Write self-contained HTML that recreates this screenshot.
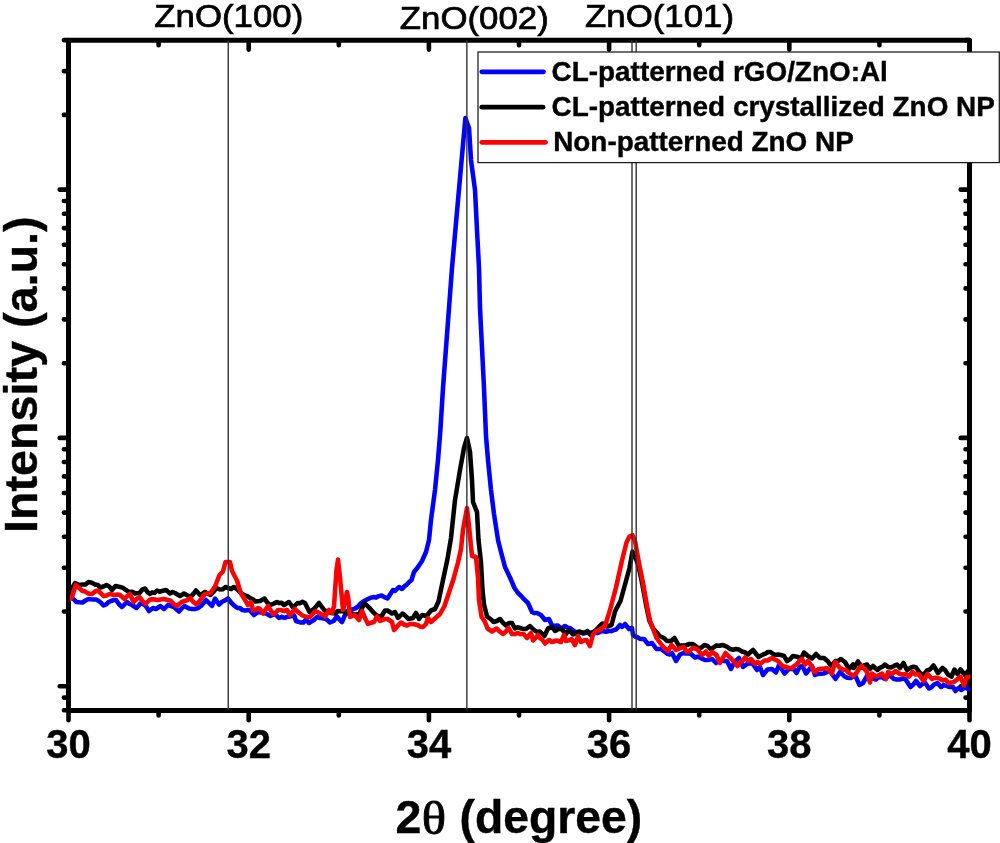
<!DOCTYPE html>
<html><head><meta charset="utf-8"><title>XRD</title>
<style>html,body{margin:0;padding:0;background:#fff}body{width:1000px;height:843px;overflow:hidden}</style></head>
<body>
<svg width="1000" height="843" viewBox="0 0 1000 843" style="display:block">
<rect width="1000" height="843" fill="#fff"/>
<defs><clipPath id="c"><rect x="69.7" y="40.2" width="900.6" height="670.2"/></clipPath></defs>
<path d="M68.5 40.2 v9.4 M68.5 710.4 v9.8 M158.6 40.2 v5.0 M158.6 710.4 v5.0 M248.7 40.2 v9.4 M248.7 710.4 v9.8 M338.8 40.2 v5.0 M338.8 710.4 v5.0 M428.9 40.2 v9.4 M428.9 710.4 v9.8 M519.0 40.2 v5.0 M519.0 710.4 v5.0 M609.1 40.2 v9.4 M609.1 710.4 v9.8 M699.2 40.2 v5.0 M699.2 710.4 v5.0 M789.3 40.2 v9.4 M789.3 710.4 v9.8 M879.4 40.2 v5.0 M879.4 710.4 v5.0 M969.5 40.2 v9.4 M969.5 710.4 v9.8 M68.5 710.3 h-4.6 M969.5 710.3 h-4.0 M68.5 697.6 h-4.6 M969.5 697.6 h-4.0 M68.5 686.2 h-8.8 M969.5 686.2 h-8.8 M68.5 611.5 h-4.6 M969.5 611.5 h-4.0 M68.5 567.7 h-4.6 M969.5 567.7 h-4.0 M68.5 536.7 h-4.6 M969.5 536.7 h-4.0 M68.5 512.6 h-4.6 M969.5 512.6 h-4.0 M68.5 493.0 h-4.6 M969.5 493.0 h-4.0 M68.5 476.4 h-4.6 M969.5 476.4 h-4.0 M68.5 462.0 h-4.6 M969.5 462.0 h-4.0 M68.5 449.3 h-4.6 M969.5 449.3 h-4.0 M68.5 437.9 h-8.8 M969.5 437.9 h-8.8 M68.5 363.2 h-4.6 M969.5 363.2 h-4.0 M68.5 319.4 h-4.6 M969.5 319.4 h-4.0 M68.5 288.4 h-4.6 M969.5 288.4 h-4.0 M68.5 264.3 h-4.6 M969.5 264.3 h-4.0 M68.5 244.7 h-4.6 M969.5 244.7 h-4.0 M68.5 228.1 h-4.6 M969.5 228.1 h-4.0 M68.5 213.7 h-4.6 M969.5 213.7 h-4.0 M68.5 201.0 h-4.6 M969.5 201.0 h-4.0 M68.5 189.6 h-8.8 M969.5 189.6 h-8.8 M68.5 114.9 h-4.6 M969.5 114.9 h-4.0 M68.5 71.1 h-4.6 M969.5 71.1 h-4.0 M68.5 40.1 h-4.6 M969.5 40.1 h-4.0" stroke="#000" stroke-width="4.6" stroke-linecap="round" fill="none"/>
<rect x="68.5" y="40.2" width="901.0" height="670.1999999999999" fill="none" stroke="#000" stroke-width="5" stroke-linejoin="round"/>
<g clip-path="url(#c)">
<polyline points="68.5,596.0 70.5,597.0 73.5,599.1 76.5,602.0 79.5,602.3 82.5,602.5 85.5,600.5 88.5,599.0 91.0,599.3 93.5,599.5 96.0,599.5 98.5,600.8 101.0,602.7 103.5,605.5 106.0,604.5 108.5,602.1 111.0,601.0 113.5,600.1 116.0,600.0 119.0,604.3 122.0,607.0 124.5,604.5 127.0,602.0 129.5,604.0 132.0,605.0 136.5,608.0 141.0,603.0 145.5,605.5 149.0,611.0 153.0,608.0 156.0,609.0 160.5,606.0 164.0,609.0 168.0,605.0 171.0,606.0 174.0,607.0 176.5,609.5 179.0,611.5 181.8,608.2 184.5,606.0 189.0,608.5 192.0,609.0 195.0,609.0 198.0,608.1 201.0,606.0 206.0,600.0 209.0,603.0 212.0,606.0 215.0,598.5 219.0,604.5 222.5,601.5 225.2,600.4 228.0,598.5 231.5,603.0 234.5,605.8 237.5,608.0 240.0,608.1 242.5,610.1 245.0,610.5 249.5,610.0 254.0,615.0 258.0,612.0 260.7,612.6 263.3,612.7 266.0,613.5 270.5,616.0 275.0,614.0 279.0,618.0 281.8,616.9 284.5,617.8 287.2,616.8 290.0,616.5 294.0,615.0 296.0,621.0 298.5,621.9 301.0,622.6 303.5,622.5 306.0,619.5 309.0,623.0 311.7,621.3 314.3,619.7 317.0,617.0 320.0,618.0 323.0,618.3 326.0,619.0 330.0,622.5 333.5,621.0 337.0,616.5 339.5,619.7 342.0,622.0 345.0,615.0 348.0,610.5 350.4,609.5 352.8,609.4 355.1,608.5 357.5,607.0 360.8,603.4 364.0,601.0 368.0,599.0 370.7,597.7 373.4,597.1 376.1,597.6 378.8,596.1 381.5,595.5 384.5,597.2 387.5,598.5 393.0,590.0 395.0,591.0 399.0,587.0 402.0,589.0 404.4,586.4 406.8,584.5 409.1,582.1 411.5,580.0 414.0,572.0 418.0,567.0 422.0,561.0 426.0,552.0 429.0,540.0 431.0,520.0 435.0,490.0 438.0,460.0 440.4,430.0 443.0,388.0 446.0,348.0 449.0,308.0 452.0,268.0 456.0,223.0 460.0,178.0 465.4,118.0 469.0,128.0 471.0,160.0 475.0,190.0 477.0,230.0 479.0,268.0 480.0,308.0 482.0,348.0 484.0,388.0 486.0,436.0 488.0,460.0 491.0,490.0 494.0,514.0 498.0,540.0 501.0,552.0 505.0,567.0 510.0,577.5 514.5,588.0 518.0,593.0 520.5,595.3 523.0,598.1 525.5,600.6 528.0,603.0 532.0,612.0 534.5,613.1 537.0,613.0 541.0,615.0 545.0,620.0 549.0,619.0 552.0,625.5 555.0,625.8 558.0,625.5 561.0,628.5 565.0,626.0 567.5,627.7 570.0,628.0 574.5,631.5 577.5,632.6 580.5,632.5 583.0,633.5 585.5,633.1 588.0,633.0 591.0,632.5 594.0,633.0 597.0,633.1 600.0,632.0 602.5,631.0 605.8,631.7 609.0,631.0 611.3,631.1 613.7,630.1 616.0,629.5 620.0,625.0 622.0,627.0 625.0,624.0 629.0,629.0 632.0,628.0 633.0,635.0 635.3,636.7 637.7,637.2 640.0,639.0 644.0,639.0 648.0,644.0 652.0,643.0 656.5,649.0 661.0,649.0 665.0,652.0 667.5,653.8 670.0,654.5 672.0,653.0 676.0,661.0 680.0,654.5 683.5,653.0 686.0,653.5 688.5,653.3 691.0,654.0 695.0,657.5 697.5,656.8 700.0,657.5 702.5,658.9 705.0,660.0 707.5,660.0 712.0,659.0 716.0,663.0 718.5,660.8 721.0,660.0 724.0,661.0 727.0,661.0 731.0,669.0 734.5,662.0 739.0,658.0 743.0,667.0 745.5,665.1 748.0,663.5 752.5,663.5 757.0,670.0 760.0,667.0 763.0,675.0 767.5,669.5 772.0,669.0 776.0,672.5 779.0,665.0 784.5,673.5 789.0,669.0 793.5,669.0 796.5,673.0 799.5,667.0 802.5,666.0 806.0,673.5 812.0,666.0 815.0,675.0 817.8,673.9 820.7,673.7 823.5,673.5 826.5,672.4 829.5,670.5 835.5,679.0 840.0,672.0 844.5,676.5 847.5,677.8 850.5,678.0 855.0,675.0 859.5,685.0 863.0,683.0 867.0,676.0 870.0,676.4 873.0,678.5 876.0,679.5 879.0,677.0 882.0,677.3 885.0,679.0 889.5,675.0 894.0,679.0 897.0,679.6 900.0,679.5 902.5,678.7 905.0,678.5 910.5,687.0 913.2,684.6 916.0,681.0 920.0,686.0 924.5,682.0 929.0,688.5 931.5,687.3 934.0,684.5 937.5,683.0 941.0,687.0 944.0,685.0 946.5,686.0 949.0,687.0 953.0,687.0 955.5,691.0 958.5,688.0 961.5,690.0 965.0,687.5 969.0,689.5" fill="none" stroke="#0000ff" stroke-width="4.55" stroke-linejoin="round" stroke-linecap="round"/>
<polyline points="68.5,594.0 70.0,592.0 75.0,583.0 79.5,585.0 82.5,584.5 85.5,584.4 88.5,582.0 91.8,582.8 95.0,584.5 97.8,585.0 100.5,587.5 103.5,586.5 106.5,585.0 109.2,586.4 112.0,590.0 115.5,586.0 120.0,587.0 122.5,587.6 125.0,589.4 127.5,591.0 130.0,592.1 132.5,591.8 135.0,593.5 139.5,593.0 142.2,589.7 145.0,588.5 147.5,592.1 150.0,594.0 152.3,592.4 154.7,592.8 157.0,590.5 159.5,591.7 162.0,591.0 166.0,590.0 170.0,593.5 172.5,592.0 175.0,593.0 177.5,594.6 180.0,596.0 184.0,593.5 187.2,595.3 190.5,597.0 193.2,594.1 196.0,590.5 200.0,595.0 202.5,593.7 205.0,592.0 207.8,593.6 210.5,595.0 213.5,591.8 216.5,588.0 220.0,589.5 222.8,589.3 225.5,587.0 228.2,588.0 231.0,589.0 234.0,587.0 236.5,588.8 239.0,591.0 242.0,593.8 245.0,595.5 247.5,596.1 250.0,598.0 252.8,599.3 255.5,601.5 260.0,601.0 264.5,598.5 267.5,602.9 270.5,605.0 273.8,603.6 277.0,602.0 279.3,603.1 281.7,602.8 284.0,605.0 286.5,603.3 289.0,602.0 293.0,607.5 297.5,603.0 300.0,603.2 302.5,601.8 305.0,603.0 309.5,612.0 314.0,609.0 319.0,603.0 324.5,610.5 329.0,612.0 332.0,613.0 335.0,613.5 338.0,611.0 341.0,611.3 344.0,611.0 347.0,613.5 350.0,612.9 353.0,614.5 356.2,614.6 359.5,614.0 364.2,603.0 367.1,605.7 370.0,608.5 373.4,612.4 376.8,615.5 381.0,617.0 385.0,610.5 387.5,610.5 392.0,613.5 395.0,612.0 398.0,618.0 402.5,613.5 405.5,615.9 408.5,619.0 413.0,618.0 416.0,613.0 419.0,619.0 422.0,615.0 426.5,616.0 431.0,610.5 435.0,609.0 438.5,601.5 443.0,580.0 447.5,559.0 451.0,538.0 455.0,500.0 460.0,470.0 464.0,448.0 467.0,438.0 470.0,452.0 472.0,480.0 473.0,502.0 477.0,512.0 478.5,540.0 481.0,562.5 482.5,590.0 484.0,604.5 487.0,616.5 490.5,619.0 493.5,622.0 496.8,621.0 500.0,619.0 503.0,622.8 506.0,625.5 509.0,623.1 512.0,623.0 515.0,628.5 517.5,627.2 520.0,628.0 523.0,628.9 526.0,629.0 530.0,626.0 534.0,630.0 537.0,631.9 540.0,631.5 544.5,636.0 548.0,628.5 552.0,627.0 555.0,631.0 558.0,629.2 561.0,628.5 563.5,631.1 566.0,634.0 569.0,630.0 573.0,634.5 576.0,633.2 579.0,631.5 583.5,633.0 587.5,631.0 590.5,635.0 593.5,631.8 596.5,629.5 599.5,626.2 602.5,623.5 607.0,626.5 611.5,625.0 615.0,611.5 620.5,601.0 625.0,584.5 629.5,568.0 632.5,551.5 635.0,556.0 638.5,566.0 642.3,584.0 646.3,606.0 649.5,621.0 653.5,629.0 656.5,632.1 659.5,636.0 664.0,638.0 667.0,641.0 671.0,641.0 674.5,638.0 679.0,646.0 681.5,645.4 684.0,645.6 686.5,645.0 689.5,644.0 692.5,644.0 695.5,646.0 698.5,648.5 701.5,647.4 704.5,645.0 707.5,645.9 710.5,649.0 713.5,647.4 716.5,645.5 719.5,645.8 722.5,645.0 725.0,645.9 727.5,647.0 730.0,649.0 733.0,649.7 736.0,649.0 739.0,649.6 742.0,651.5 745.0,652.2 748.0,654.5 750.5,652.1 753.0,650.0 758.5,657.0 763.0,654.5 765.5,653.7 768.0,652.0 770.3,652.0 772.7,653.6 775.0,655.0 778.0,654.6 781.0,655.0 784.0,656.0 787.0,661.0 790.0,659.3 793.0,656.0 795.5,656.4 798.0,657.0 801.0,659.0 804.0,652.5 808.0,656.0 812.0,658.5 816.0,654.0 820.0,658.0 824.0,658.0 828.0,661.5 831.0,666.0 835.5,661.0 838.2,660.9 841.0,659.0 845.0,662.0 849.0,669.0 853.0,664.5 854.0,668.0 858.0,661.5 862.0,667.5 864.5,665.2 867.0,664.5 870.0,669.0 873.0,666.0 877.5,670.0 880.0,667.8 882.5,666.7 885.0,664.5 888.0,666.9 891.0,667.5 894.0,665.9 897.0,664.5 900.0,668.0 903.5,663.0 907.0,670.0 911.0,667.5 913.5,666.8 916.0,667.5 920.0,673.0 923.5,675.0 927.0,670.5 930.0,669.5 933.5,665.5 938.0,673.0 942.5,668.0 945.2,670.3 948.0,674.5 951.5,676.5 954.5,669.5 957.5,674.0 960.5,669.5 965.0,675.0 969.0,670.0" fill="none" stroke="#000000" stroke-width="4.55" stroke-linejoin="round" stroke-linecap="round"/>
<polyline points="68.5,600.0 72.0,597.0 75.7,585.0 79.1,588.0 82.5,591.0 84.9,591.3 87.2,593.0 89.6,593.8 92.0,594.0 94.8,591.7 97.5,590.5 100.5,592.9 103.5,596.0 106.5,595.5 109.5,594.0 112.1,594.5 114.8,595.0 117.4,594.5 120.0,595.0 124.5,599.0 127.2,595.9 130.0,594.0 133.5,602.0 136.5,599.2 139.5,597.0 142.5,601.0 145.5,604.0 150.0,599.5 152.5,599.3 155.0,599.6 157.5,600.0 160.5,599.4 163.5,599.0 166.0,599.5 168.5,600.2 171.0,601.0 174.0,604.2 177.0,606.0 179.5,603.8 182.0,601.9 184.5,601.0 187.2,600.2 190.0,598.0 193.0,601.6 196.0,604.0 198.5,602.3 201.0,599.0 205.0,594.0 207.8,593.4 210.5,593.0 215.0,586.5 219.5,575.0 223.0,571.5 225.5,562.0 230.0,562.0 232.0,571.0 237.0,580.5 240.5,592.5 245.0,600.0 248.0,605.0 251.0,602.0 253.0,610.5 255.5,610.0 258.0,608.0 260.0,609.0 263.0,613.5 268.0,606.0 273.0,614.0 275.5,612.7 278.0,610.0 281.0,610.1 284.0,611.0 287.0,610.0 290.0,615.0 295.0,609.0 297.5,611.6 300.0,613.5 302.5,615.5 305.0,616.5 307.5,617.0 310.0,617.0 312.8,614.0 315.5,611.0 320.0,613.5 322.5,614.7 325.0,616.5 329.0,610.0 332.0,613.0 334.0,606.0 336.5,570.0 338.0,559.5 340.0,577.5 343.0,610.0 345.5,600.0 347.0,592.0 348.5,600.0 350.0,617.0 354.5,615.0 359.0,620.0 362.0,611.0 365.0,618.0 368.0,624.0 371.0,622.7 374.0,622.0 377.0,616.5 380.0,621.0 382.5,619.9 385.0,619.0 387.5,619.0 392.0,622.0 394.0,630.0 396.3,627.6 398.7,624.7 401.0,622.5 404.0,624.5 407.0,625.5 410.0,624.0 413.0,624.0 417.5,625.0 420.2,626.6 423.0,627.0 426.0,624.0 428.0,618.0 431.0,622.0 435.5,618.0 440.0,614.0 444.5,606.0 449.0,592.5 453.5,579.0 458.0,562.5 461.0,549.0 463.0,530.0 467.0,508.0 469.0,526.0 472.0,556.0 476.0,557.0 478.0,577.5 479.0,600.0 481.5,616.5 485.0,622.0 487.5,628.5 492.0,631.5 496.5,628.5 499.8,631.6 503.0,634.0 505.8,631.7 508.5,628.0 512.0,634.0 514.8,634.1 517.5,633.0 520.5,634.1 523.5,634.0 527.0,638.0 531.0,633.0 533.0,640.5 535.5,637.9 538.0,635.0 540.0,638.0 542.5,640.0 545.0,643.5 549.0,640.0 552.0,642.0 556.5,640.5 561.0,642.0 564.0,635.0 566.0,641.0 568.8,640.4 571.5,639.0 575.0,645.0 578.0,636.0 581.0,642.0 583.8,640.5 586.5,640.0 590.0,646.0 593.0,634.5 596.0,631.0 600.0,630.0 602.5,627.7 605.0,626.0 610.0,610.0 616.0,587.5 622.0,560.5 626.5,542.5 629.5,536.5 632.5,535.0 635.0,541.0 638.5,560.5 643.0,583.0 647.0,606.0 650.0,621.0 653.5,630.0 656.5,638.0 662.5,646.0 665.2,648.8 668.0,651.0 671.5,645.0 676.0,650.0 678.5,649.0 681.0,647.9 683.5,647.0 687.0,652.0 689.8,650.7 692.5,648.0 697.0,649.0 702.0,655.0 706.0,651.5 709.0,656.0 712.0,652.0 716.5,655.0 720.0,663.0 725.5,653.0 728.5,656.2 731.5,659.0 734.5,662.2 737.5,666.0 740.0,662.8 742.5,660.9 745.0,657.5 748.0,661.0 751.0,659.0 755.0,664.0 758.0,662.0 760.0,664.0 764.5,660.5 767.5,660.5 772.0,658.0 775.0,659.5 778.0,661.0 782.5,666.0 786.0,667.0 789.0,668.0 792.0,668.0 794.5,665.8 797.0,664.0 799.5,661.0 802.0,659.0 805.0,664.5 808.0,661.0 811.5,666.0 814.5,672.0 819.0,669.0 821.5,668.7 824.0,668.8 826.5,668.0 829.2,670.2 832.0,673.5 835.0,662.0 840.0,668.0 843.0,669.5 846.0,670.0 848.5,672.7 851.0,674.5 853.5,676.0 856.3,673.2 859.2,668.5 862.0,666.0 867.0,672.0 870.0,682.5 872.0,673.5 876.0,676.5 879.0,675.2 882.0,673.5 886.0,679.0 888.0,672.0 892.0,674.0 895.5,671.0 900.0,674.0 903.0,674.6 906.0,674.0 909.0,676.5 912.5,672.0 915.5,674.5 918.5,674.0 923.5,681.0 927.5,674.0 932.0,679.0 934.8,677.8 937.5,678.0 940.2,678.9 943.0,680.5 945.5,679.5 949.0,683.5 951.5,682.4 954.0,682.0 957.5,679.0 960.5,677.0 964.0,685.5 966.5,677.5 969.0,677.0" fill="none" stroke="#ff0000" stroke-width="4.55" stroke-linejoin="round" stroke-linecap="round"/>
</g>
<line x1="228.25" y1="40.2" x2="228.25" y2="710.4" stroke="#333" stroke-width="1.4"/>
<line x1="466.85" y1="40.2" x2="466.85" y2="710.4" stroke="#333" stroke-width="1.4"/>
<line x1="632.0" y1="40.2" x2="632.0" y2="710.4" stroke="#333" stroke-width="1.4"/>
<line x1="636.2" y1="40.2" x2="636.2" y2="710.4" stroke="#333" stroke-width="1.4"/>
<rect x="478" y="52" width="521.3" height="110.6" fill="#fff" stroke="#1a1a1a" stroke-width="1.25"/>
<line x1="481.8" y1="71.8" x2="543.5" y2="71.8" stroke="#0000ff" stroke-width="4.8" stroke-linecap="round"/>
<line x1="481.8" y1="107.2" x2="543" y2="107.2" stroke="#000" stroke-width="4.8" stroke-linecap="round"/>
<line x1="481.8" y1="142.3" x2="545.5" y2="142.3" stroke="#ff0000" stroke-width="4.8" stroke-linecap="round"/>
<text x="551.6" y="81.1" font-family="Liberation Sans, Arial, Helvetica, sans-serif" font-weight="bold" font-size="27.9" stroke="#000" stroke-width="0.4">CL-patterned rGO/ZnO:Al</text>
<text x="551.6" y="116.4" font-family="Liberation Sans, Arial, Helvetica, sans-serif" font-weight="bold" font-size="27.9" stroke="#000" stroke-width="0.4">CL-patterned crystallized ZnO NP</text>
<text x="553.2" y="151.3" font-family="Liberation Sans, Arial, Helvetica, sans-serif" font-weight="bold" font-size="27.9" stroke="#000" stroke-width="0.4">Non-patterned ZnO NP</text>
<text x="68.5" y="758.2" font-family="Liberation Sans, Arial, Helvetica, sans-serif" font-weight="bold" font-size="40" text-anchor="middle" stroke="#000" stroke-width="0.4">30</text>
<text x="248.7" y="758.2" font-family="Liberation Sans, Arial, Helvetica, sans-serif" font-weight="bold" font-size="40" text-anchor="middle" stroke="#000" stroke-width="0.4">32</text>
<text x="428.9" y="758.2" font-family="Liberation Sans, Arial, Helvetica, sans-serif" font-weight="bold" font-size="40" text-anchor="middle" stroke="#000" stroke-width="0.4">34</text>
<text x="609.1" y="758.2" font-family="Liberation Sans, Arial, Helvetica, sans-serif" font-weight="bold" font-size="40" text-anchor="middle" stroke="#000" stroke-width="0.4">36</text>
<text x="789.3" y="758.2" font-family="Liberation Sans, Arial, Helvetica, sans-serif" font-weight="bold" font-size="40" text-anchor="middle" stroke="#000" stroke-width="0.4">38</text>
<text x="969.5" y="758.2" font-family="Liberation Sans, Arial, Helvetica, sans-serif" font-weight="bold" font-size="40" text-anchor="middle" stroke="#000" stroke-width="0.4">40</text>
<text x="154.3" y="26.9" font-family="Liberation Sans, Arial, Helvetica, sans-serif" font-size="30.8" textLength="149" lengthAdjust="spacingAndGlyphs" stroke="#000" stroke-width="0.7">ZnO(100)</text>
<text x="399.8" y="29.3" font-family="Liberation Sans, Arial, Helvetica, sans-serif" font-size="30.8" textLength="149" lengthAdjust="spacingAndGlyphs" stroke="#000" stroke-width="0.7">ZnO(002)</text>
<text x="585" y="26.9" font-family="Liberation Sans, Arial, Helvetica, sans-serif" font-size="30.8" textLength="149" lengthAdjust="spacingAndGlyphs" stroke="#000" stroke-width="0.7">ZnO(101)</text>
<text y="833.3" font-family="Liberation Sans, Arial, Helvetica, sans-serif" font-weight="bold" font-size="46.6" stroke="#000" stroke-width="0.4"><tspan x="395.6">2</tspan><tspan x="421.8" y="833.8" font-family="Liberation Serif, DejaVu Serif, serif" font-weight="normal" font-size="46.5" stroke-width="0.9" textLength="24.3" lengthAdjust="spacingAndGlyphs">θ</tspan><tspan x="446.7" y="832.9" font-size="45.6" textLength="195.5" lengthAdjust="spacingAndGlyphs"> (degree)</tspan></text>
<text transform="translate(36.5,533) rotate(-90)" font-family="Liberation Sans, Arial, Helvetica, sans-serif" font-weight="bold" font-size="46.7" stroke="#000" stroke-width="0.4">Intensity (a.u.)</text>
</svg>
</body></html>
